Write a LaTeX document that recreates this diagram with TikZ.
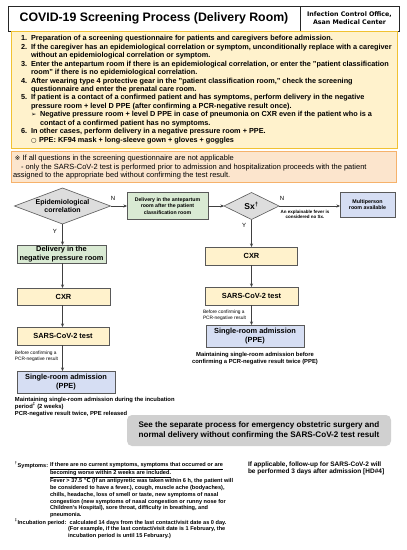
\documentclass[tikz,border=0pt]{standalone}
\usepackage{fontspec}
\setmainfont{Liberation Sans}
\newfontfamily\djv{DejaVu Sans}
\usetikzlibrary{shapes.geometric,arrows.meta,calc}
\definecolor{ylfill}{HTML}{FFF2CC}
\definecolor{ylline}{HTML}{F1C232}
\definecolor{orfill}{HTML}{FCE5CD}
\definecolor{orline}{HTML}{F6B26B}
\definecolor{grfill}{HTML}{D9EAD3}
\definecolor{blfill}{HTML}{D6DEF3}
\definecolor{dmfill}{HTML}{DDDDDD}
\definecolor{bxline}{HTML}{595959}
\definecolor{gybox}{HTML}{D0D0D0}
\definecolor{arrcol}{HTML}{404040}
\newcommand\fs[2]{\fontsize{#1}{#2}\selectfont}
\begin{document}
\begin{tikzpicture}[x=1pt,y=-1pt,
  every node/.style={inner sep=0pt,outer sep=0pt},
  box/.style={draw=bxline,line width=0.6pt,align=center,font=\bfseries\fs{7.4}{8.8}},
  gbox/.style={box,fill=grfill},
  ybox/.style={box,fill=ylfill},
  bbox/.style={box,fill=blfill},
  dia/.style={draw=bxline,line width=0.6pt,fill=dmfill,diamond,align=center},
  arr/.style={draw=arrcol,line width=0.6pt,-{Stealth[length=3.5pt,width=3pt]}},
  lbl/.style={font=\fs{6}{7}},
  yl/.style={anchor=base west,font=\bfseries\fs{7.3}{8.4}},
  ol/.style={anchor=base west,font=\fs{7.5}{8.4}},
  note/.style={font=\bfseries\fs{5.85}{6.8},align=left},
  foot/.style={font=\bfseries\fs{5.6}{6.7}}]
\useasboundingbox (0,0) rectangle (407,550);
\fill[white] (0,0) rectangle (407,550);

% title
\node[draw=black!85,line width=0.7pt,minimum width=292pt,minimum height=25pt,anchor=north west,font=\bfseries\fs{12.3}{14}] (title) at (8,6) {COVID-19 Screening Process (Delivery Room)};
\node[draw=black!85,line width=0.7pt,minimum width=99pt,minimum height=25pt,anchor=north west,align=center,font=\djv\bfseries\fs{6.3}{8}] (org) at (300,6) {Infection Control Office,\\Asan Medical Center};

% yellow instructions
\node[fill=ylfill,draw=ylline,line width=1pt,minimum width=386pt,minimum height=117pt,anchor=north west] (ybg) at (11,31) {};
\node[yl] (n1) at (21,40.8) {1.};
\node[yl] (t1) at (31,40.8) {Preparation of a screening questionnaire for patients and caregivers before admission.};
\node[yl] (n2) at (21,49.25) {2.};
\node[yl] (t2) at (31,49.25) {If the caregiver has an epidemiological correlation or symptom, unconditionally replace with a caregiver};
\node[yl] (t2b) at (31,57.7) {without an epidemiological correlation or symptom.};
\node[yl] (n3) at (21,66.15) {3.};
\node[yl] (t3) at (31,66.15) {Enter the antepartum room if there is an epidemiological correlation, or enter the "patient classification};
\node[yl] (t3b) at (31,74.6) {room" if there is no epidemiological correlation.};
\node[yl] (n4) at (21,83.05) {4.};
\node[yl] (t4) at (31,83.05) {After wearing type 4 protective gear in the "patient classification room," check the screening};
\node[yl] (t4b) at (31,91.5) {questionnaire and enter the prenatal care room.};
\node[yl] (n5) at (21,99.95) {5.};
\node[yl] (t5) at (31,99.95) {If patient is a contact of a confirmed patient and has symptoms, perform delivery in the negative};
\node[yl] (t5b) at (31,108.4) {pressure room + level D PPE (after confirming a PCR-negative result once).};
\node[yl] (b5) at (31,116.85) {{\djv\fs{6.3}{7}➢}};
\node[yl] (t5c) at (40,116.85) {Negative pressure room + level D PPE in case of pneumonia on CXR even if the patient who is a};
\node[yl] (t5d) at (40,125.3) {contact of a confirmed patient has no symptoms.};
\node[yl] (n6) at (21,133.75) {6.};
\node[yl] (t6) at (31,133.75) {In other cases, perform delivery in a negative pressure room + PPE.};
\node[yl] (b6) at (31,142.2) {{\djv\fs{6.3}{7}○}};
\node[yl] (t6b) at (39,142.2) {PPE: KF94 mask + long-sleeve gown + gloves + goggles};

% orange note
\node[fill=orfill,draw=orline,line width=1pt,minimum width=385pt,minimum height=31pt,anchor=north west] (obg) at (11,151) {};
\node[ol] (o1) at (15,160.5) {{\djv\fs{6.5}{7}※} If all questions in the screening questionnaire are not applicable};
\node[ol] (o2) at (21,169) {- only the SARS-CoV-2 test is performed prior to admission and hospitalization proceeds with the patient};
\node[ol] (o3) at (13,177.3) {assigned to the appropriate bed without confirming the test result.};

% flow row
\node[dia,minimum width=96pt,minimum height=36pt,shape aspect=2.6,font=\bfseries\fs{7}{8.2}] (epi) at (62.5,206) {Epidemiological\\correlation};
\node[gbox,minimum width=81pt,minimum height=27pt,font=\bfseries\fs{5.2}{6.3}] (ante) at (167.5,206) {Delivery in the antepartum\\room after the patient\\classification room};
\node[dia,minimum width=55pt,minimum height=27pt,shape aspect=2,font=\bfseries\fs{8.5}{9}] (sx) at (251.5,206) {Sx\textsuperscript{†}};
\node[bbox,minimum width=55pt,minimum height=25pt,font=\bfseries\fs{5.3}{6.6}] (multi) at (367.5,204.5) {Multiperson\\room available};
\node[lbl] (nL) at (113,198) {N};
\node[lbl] (nR) at (282,198.5) {N};
\node[lbl] (yL) at (55,231) {Y};
\node[lbl] (yR) at (244,225) {Y};
\node[font=\bfseries\fs{4.5}{5.7},align=center] (fever) at (305,214.5) {An explainable fever is\\considered no Sx.};

% left column
\node[gbox,minimum width=89pt,minimum height=18pt,anchor=west] (neg) at (17,254) {Delivery in the\\negative pressure room};
\node[ybox,minimum width=93pt,minimum height=17pt,anchor=west] (cxrL) at (17,296.5) {CXR};
\node[ybox,minimum width=92pt,minimum height=18pt,anchor=west] (sarsL) at (17,336) {SARS-CoV-2 test};
\node[bbox,minimum width=98pt,minimum height=22pt,anchor=west] (singL) at (17,382) {Single-room admission\\(PPE)};
\node[font=\fs{4.8}{5.5},align=left,anchor=west] (befL) at (15,356.5) {Before confirming a\\PCR-negative result};
\node[note,anchor=west] (afterL) at (15,406.7) {Maintaining single-room admission during the incubation\\period\textsuperscript{‡} (2 weeks)\\PCR-negative result twice, PPE released};

% right column
\node[ybox,minimum width=92pt,minimum height=18pt] (cxrR) at (251.5,256) {CXR};
\node[ybox,minimum width=93pt,minimum height=18pt] (sarsR) at (251.5,296) {SARS-CoV-2 test};
\node[bbox,minimum width=98pt,minimum height=22pt] (singR) at (255,336) {Single-room admission\\(PPE)};
\node[font=\fs{4.8}{5.5},align=left,anchor=west] (befR) at (203,315.5) {Before confirming a\\PCR-negative result};
\node[note,align=center] (afterR) at (255,358.5) {Maintaining single-room admission before\\confirming a PCR-negative result twice (PPE)};

% connectors
\draw[arr] (epi.east) -- (ante.west);
\draw[arr] (ante.east) -- (sx.west);
\draw[arr] (sx.east) -- (sx.east -| multi.west);
\draw[arr] (epi.south) -- (epi.south |- neg.north);
\draw[arr] (epi.south |- neg.south) -- (epi.south |- cxrL.north);
\draw[arr] (epi.south |- cxrL.south) -- (epi.south |- sarsL.north);
\draw[arr] (epi.south |- sarsL.south) -- (epi.south |- singL.north);
\draw[arr] (sx.south) -- (cxrR.north);
\draw[arr] (cxrR.south) -- (sarsR.north);
\draw[arr] (sarsR.south) -- (sarsR.south |- singR.north);

% gray box
\node[fill=gybox,rounded corners=5pt,minimum width=264pt,minimum height=31pt,align=center,font=\bfseries\fs{8.1}{10}] (sep) at (259,430.5) {See the separate process for emergency obstetric surgery and\\normal delivery without confirming the SARS-CoV-2 test result};

% footnotes
\node[anchor=base west,foot] (symL) at (15,467) {\textsuperscript{†}Symptoms:};
\node[anchor=north west,foot,align=left] (symT) at (50,462.3) {\underline{If there are no current symptoms, symptoms that occurred or are}\\\underline{becoming worse within 2 weeks are included.}\\Fever > 37.5 {\djv ℃} (If an antipyretic was taken within 6 h, the patient will\\be considered to have a fever.), cough, muscle ache (bodyaches),\\chills, headache, loss of smell or taste, new symptoms of nasal\\congestion (new symptoms of nasal congestion or runny nose for\\Children’s Hospital), sore throat, difficulty in breathing, and\\pneumonia.};
\node[anchor=base west,foot] (incL) at (15,524) {\textsuperscript{‡}Incubation period:\ \ calculated 14 days from the last contact/visit date as 0 day.};
\node[anchor=north west,foot,align=left] (incT) at (68,526.3) {(For example, if the last contact/visit date is 1 February, the\\incubation period is until 15 February.)};
\node[anchor=north west,font=\bfseries\fs{6.5}{6.9},align=left] (fup) at (248,461.5) {If applicable, follow-up for SARS-CoV-2 will\\be performed 3 days after admission [HD\#4]};
\end{tikzpicture}
\end{document}
